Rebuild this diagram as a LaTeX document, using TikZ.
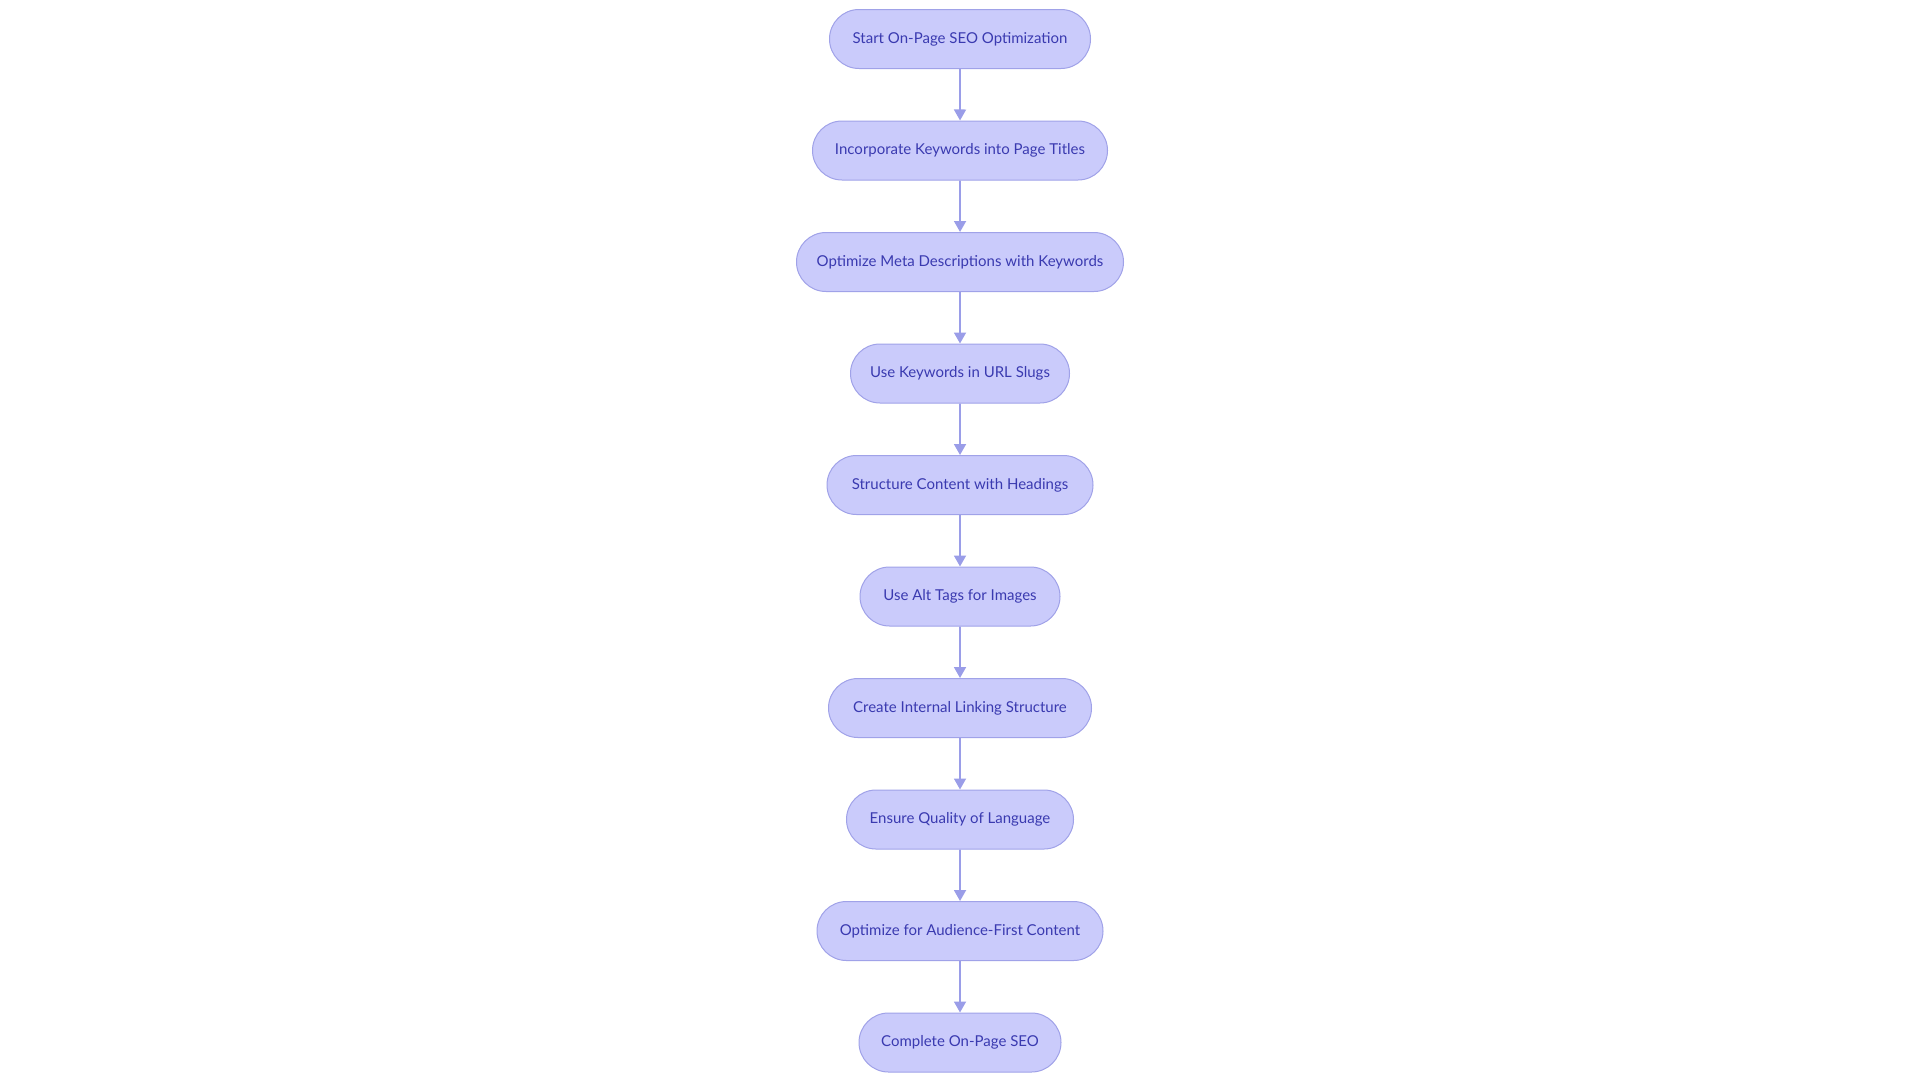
\documentclass[tikz,border=0pt]{standalone}
\usepackage{fontspec}
\setmainfont{Lato}
\usetikzlibrary{shapes.misc,arrows.meta}
\definecolor{boxfill}{RGB}{202,203,251}
\definecolor{boxline}{RGB}{160,162,232}
\definecolor{boxtext}{RGB}{58,58,176}
\definecolor{arrline}{RGB}{154,157,232}
\tikzset{
  stepbox/.style={rounded rectangle, draw=boxline, fill=boxfill, line width=1pt,
    minimum height=59pt, inner xsep=0pt, text=boxtext, font=\fontsize{15}{18}\selectfont},
  flow/.style={draw=arrline, line width=1.8pt, -{Triangle[length=11pt,width=12pt]}}
}
\begin{document}
\begin{tikzpicture}[x=1pt,y=-1pt]
			%%%%% FRAME %%%%%
			\useasboundingbox (0,0) rectangle (1920,1080);
			
			\node[stepbox, minimum width=261pt] (start) at (960, 39) {Start On-Page SEO Optimization};
			\node[stepbox, minimum width=295pt] (titles) at (960, 150.5) {Incorporate Keywords into Page Titles};
			\node[stepbox, minimum width=327pt] (meta) at (960, 262) {Optimize Meta Descriptions with Keywords};
			\node[stepbox, minimum width=219pt] (slugs) at (960, 373.5) {Use Keywords in URL Slugs};
			\node[stepbox, minimum width=266pt] (headings) at (960, 485) {Structure Content with Headings};
			\node[stepbox, minimum width=200pt] (alttags) at (960, 596.5) {Use Alt Tags for Images};
			\node[stepbox, minimum width=263pt] (linking) at (960, 708) {Create Internal Linking Structure};
			\node[stepbox, minimum width=227pt] (language) at (960, 819.5) {Ensure Quality of Language};
			\node[stepbox, minimum width=286pt] (audience) at (960, 931) {Optimize for Audience-First Content};
			\node[stepbox, minimum width=202pt] (complete) at (960, 1042.5) {Complete On-Page SEO};
			
			%%%%% ARROWS %%%%%
			\draw[flow] (start) -- (titles);
			\draw[flow] (titles) -- (meta);
			\draw[flow] (meta) -- (slugs);
			\draw[flow] (slugs) -- (headings);
			\draw[flow] (headings) -- (alttags);
			\draw[flow] (alttags) -- (linking);
			\draw[flow] (linking) -- (language);
			\draw[flow] (language) -- (audience);
			\draw[flow] (audience) -- (complete);
			
\end{tikzpicture}
\end{document}
